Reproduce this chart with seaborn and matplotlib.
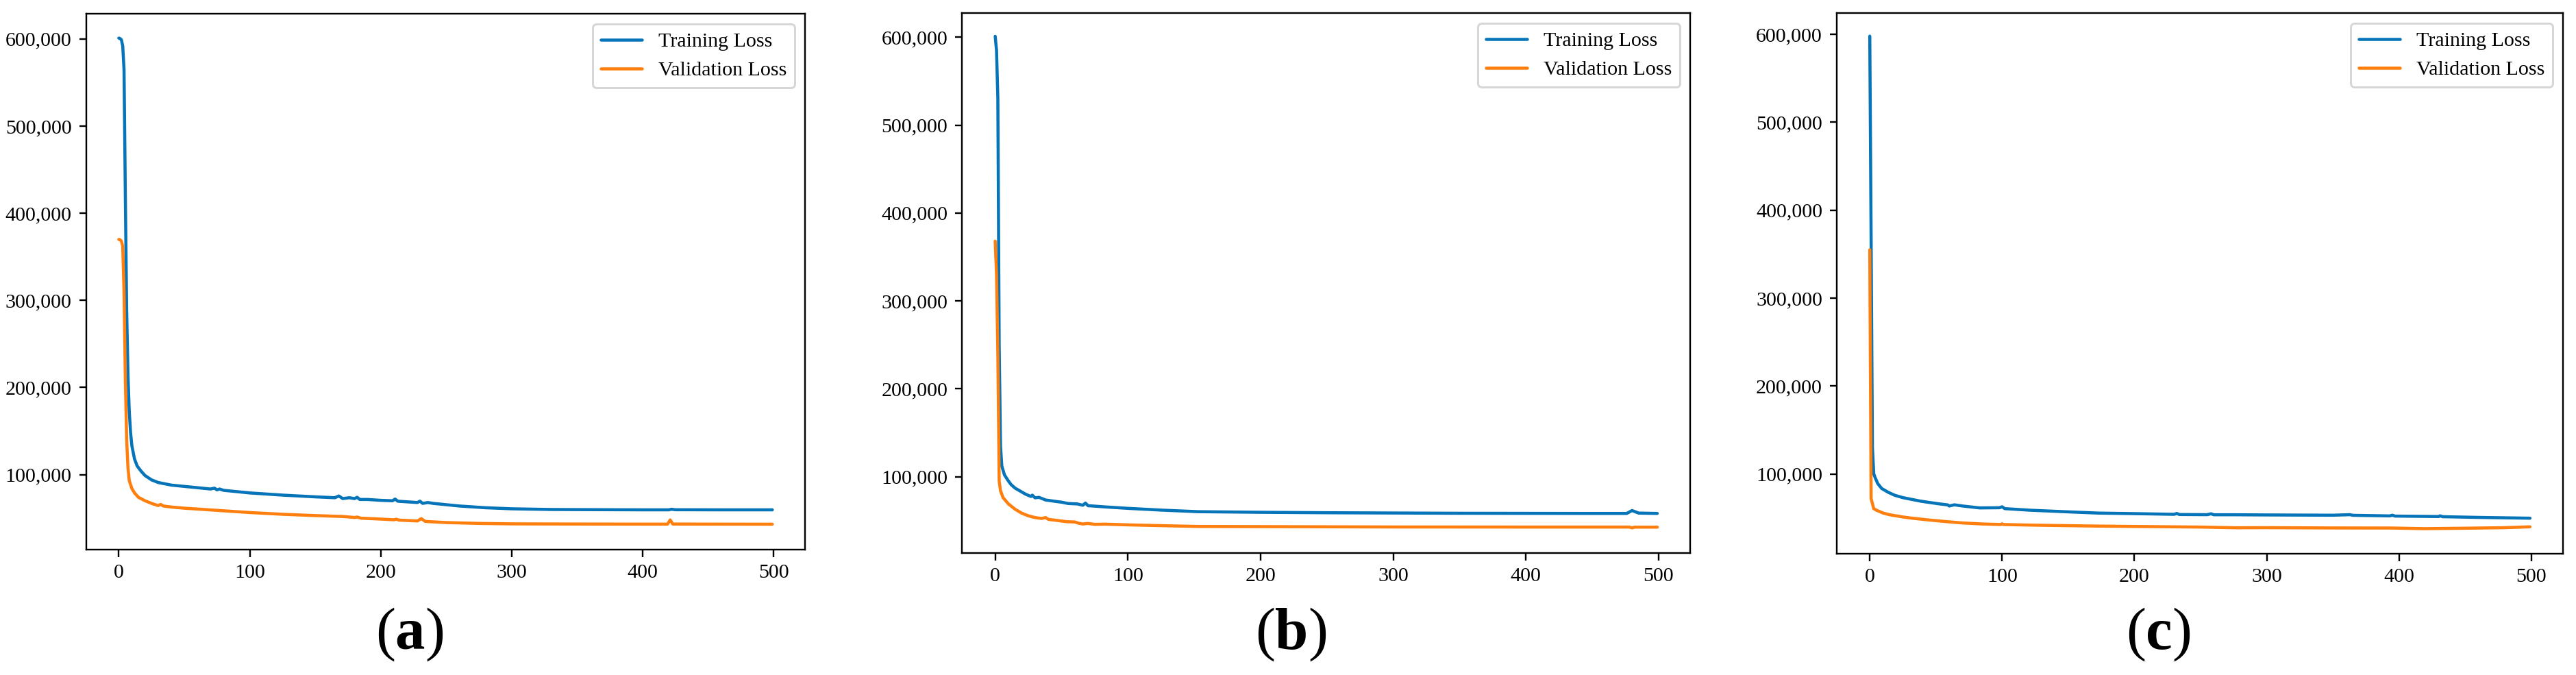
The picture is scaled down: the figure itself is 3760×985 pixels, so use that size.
import matplotlib
matplotlib.use("Agg")
import matplotlib.pyplot as plt
from matplotlib.ticker import StrMethodFormatter
import seaborn as sns

# panel (a)
epochs_a_train = [0, 1, 2, 3, 4, 5, 6, 7, 8, 9, 10, 12, 14, 17, 20, 25, 30, 35, 40, 50, 60, 70, 73, 75, 77, 80,
                  100, 125, 150, 165, 168, 171, 176, 180, 182, 184, 190, 200, 209, 211, 213, 228, 230, 232, 236,
                  240, 260, 280, 300, 330, 360, 400, 420, 422, 425, 460, 499]
loss_a_train = [601000, 600500, 599000, 592000, 565000, 420000, 290000, 215000, 172000, 148000, 133000, 118000,
                110000, 104000, 99000, 94000, 91000, 89500, 88000, 86500, 85000, 83500, 84500, 82500, 83500, 82000,
                79000, 76500, 74500, 73500, 75500, 72500, 73500, 72500, 74000, 71500, 71500, 70500, 70000, 72000,
                69500, 68000, 69500, 67000, 68000, 67000, 64000, 62000, 60800, 60000, 59800, 59600, 59600, 60300,
                59700, 59600, 59600]
epochs_a_val = [0, 1, 2, 3, 4, 5, 6, 7, 8, 10, 12, 15, 20, 25, 30, 32, 34, 40, 50, 75, 100, 125, 150, 170, 175,
                180, 182, 185, 200, 210, 212, 214, 228, 231, 234, 250, 275, 300, 350, 400, 419, 421, 423, 450, 499]
loss_a_val = [370000, 369500, 368000, 362000, 310000, 210000, 140000, 108000, 93000, 84000, 79000, 74000, 70000,
              67000, 64500, 65800, 64000, 62800, 61500, 59000, 56500, 54500, 53000, 52000, 51500, 50800, 51300,
              50000, 49000, 48200, 48800, 47800, 46800, 49500, 46300, 45000, 44000, 43500, 43300, 43200, 43200,
              48000, 43300, 43200, 43100]

# panel (b)
epochs_b_train = [0, 1, 2, 3, 4, 5, 7, 10, 12, 15, 19, 23, 27, 28, 30, 33, 38, 45, 50, 55, 62, 66, 68, 70, 75, 84,
                  100, 125, 153, 200, 250, 300, 350, 400, 450, 476, 480, 485, 499]
loss_b_train = [601000, 585000, 530000, 250000, 135000, 112000, 102000, 95000, 91000, 87000, 83500, 80000, 77500,
                79000, 76000, 76500, 73500, 72000, 71000, 69500, 69000, 67500, 70000, 67000, 66500, 65500, 64000,
                62000, 60200, 59500, 59000, 58700, 58400, 58300, 58200, 58200, 61500, 58600, 58200]
epochs_b_val = [0, 1, 2, 3, 4, 6, 10, 15, 20, 25, 30, 35, 38, 40, 54, 60, 63, 66, 70, 75, 83, 100, 125, 153, 200,
                300, 400, 478, 480, 482, 499]
loss_b_val = [368000, 330000, 240000, 95000, 84000, 76000, 69000, 63000, 58500, 55500, 53500, 52500, 53500, 51500,
              48800, 48500, 47000, 46200, 46800, 45800, 46000, 45200, 44300, 43400, 43200, 42800, 42700, 42700,
              41800, 42600, 42600]

# panel (c)
epochs_c_train = [0, 1, 2, 3, 4, 6, 9, 14, 19, 25, 30, 38, 45, 52, 59, 60, 64, 70, 83, 98, 100, 102, 121, 150, 173,
                  200, 230, 232, 234, 255, 258, 260, 276, 300, 350, 363, 365, 393, 395, 397, 430, 431, 433, 460, 499]
loss_c_train = [598000, 370000, 130000, 100000, 96000, 89000, 83400, 79000, 75600, 73000, 71500, 69100, 67500,
                66000, 64700, 63500, 64800, 63500, 61300, 61500, 62600, 60500, 58700, 56800, 55400, 54800, 54000,
                55000, 53800, 53600, 54600, 53500, 53500, 53300, 53000, 53600, 52900, 52200, 53000, 52000, 51500,
                52300, 51300, 50500, 49600]
epochs_c_val = [0, 1, 3, 5, 10, 15, 25, 32, 45, 58, 70, 84, 99, 100, 101, 120, 136, 173, 200, 250, 276, 300, 350,
                395, 419, 450, 480, 499]
loss_c_val = [355000, 72000, 60500, 58700, 55500, 53500, 51000, 49600, 47500, 45700, 44200, 43100, 42400, 43200,
              42400, 41800, 41400, 40600, 40200, 39500, 38700, 38800, 38500, 38400, 37700, 38200, 38800, 39800]

panel_labels = ["a", "b", "c"]
series_names = ["Training Loss", "Validation Loss"]

sns.set_style("ticks")
plt.rcParams["font.family"] = ["Liberation Serif", "DejaVu Serif"]
plt.rcParams["mathtext.fontset"] = "custom"
plt.rcParams["mathtext.rm"] = "Liberation Serif"
plt.rcParams["mathtext.bf"] = "Liberation Serif:bold"
plt.rcParams["axes.edgecolor"] = "black"
plt.rcParams["xtick.color"] = "black"
plt.rcParams["ytick.color"] = "black"
plt.rcParams["text.color"] = "black"
plt.rcParams["font.size"] = 10

W, H = 3760, 985
DPI = 216
fig = plt.figure(figsize=(W / DPI, H / DPI), dpi=DPI)

# axes boxes in pixels: left, right, top, bottom
boxes = [(125.7, 1175, 20, 801.7), (1404.3, 2467.3, 19, 806.7), (2681, 3741, 19, 808)]
ylims = [(14200, 629000), (13400, 627500), (9200, 624300)]
label_x = [598, 1884, 3150]

blue = "#0574b8"
orange = "#ff7f0e"

data = [
    (epochs_a_train, loss_a_train, epochs_a_val, loss_a_val),
    (epochs_b_train, loss_b_train, epochs_b_val, loss_b_val),
    (epochs_c_train, loss_c_train, epochs_c_val, loss_c_val),
]

for i, (et, lt, ev, lv) in enumerate(data):
    l, r, t, b = boxes[i]
    ax = fig.add_axes([l / W, 1 - b / H, (r - l) / W, (b - t) / H])
    sns.lineplot(x=et, y=lt, ax=ax, color=blue, label=series_names[0], errorbar=None, linewidth=1.5)
    sns.lineplot(x=ev, y=lv, ax=ax, color=orange, label=series_names[1], errorbar=None, linewidth=1.5)
    ax.set_xlim(-24.95, 523.95)
    ax.set_ylim(*ylims[i])
    ax.set_xticks([0, 100, 200, 300, 400, 500])
    ax.set_yticks([100000, 200000, 300000, 400000, 500000, 600000])
    ax.yaxis.set_major_formatter(StrMethodFormatter("{x:,.0f}"))
    for s in ax.spines.values():
        s.set_visible(True)
        s.set_linewidth(0.8)
    ax.set_xlabel("")
    ax.set_ylabel("")
    ax.legend(loc="upper right")
    fig.text(label_x[i] / W, 1 - 926 / H, r"($\mathbf{%s}$)" % panel_labels[i],
             ha="center", va="center", fontsize=29)

fig.savefig("out.png", dpi=DPI)
